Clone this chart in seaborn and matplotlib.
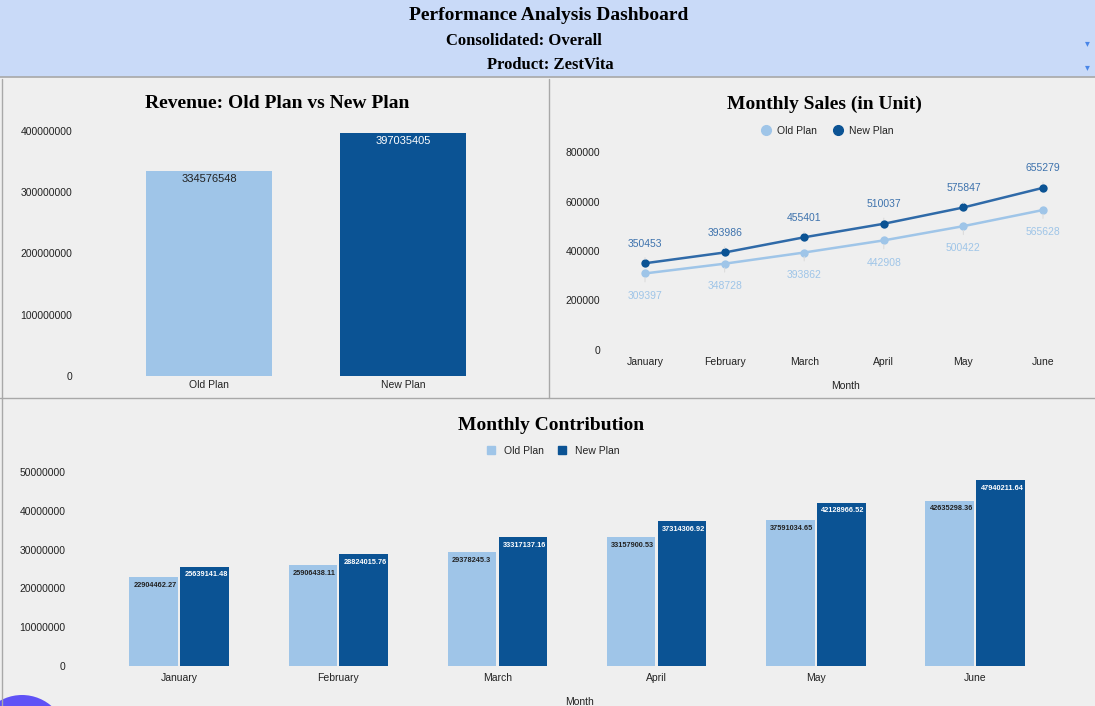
import pandas as pd
import matplotlib.pyplot as plt
import seaborn as sns
from matplotlib.patches import Rectangle, Circle
from matplotlib.lines import Line2D

# data
plans = ["Old Plan", "New Plan"]
revenue = [334576548, 397035405]

months = ["January", "February", "March", "April", "May", "June"]
sales_old = [309397, 348728, 393862, 442908, 500422, 565628]
sales_new = [350453, 393986, 455401, 510037, 575847, 655279]

contrib_old = [22904462.27, 25906438.11, 29378245.3, 33157900.53, 37591034.65, 42635298.36]
contrib_new = [25639141.48, 28824015.76, 33317137.16, 37314306.92, 42128966.52, 47940211.64]

LIGHT = "#9fc5e8"
DARK = "#0b5394"
BG = "#efefef"

sns.set_style("white")
plt.rcParams["font.family"] = ["Liberation Sans", "DejaVu Sans"]
plt.rcParams["text.color"] = "#222222"

W, H = 1095, 706
fig = plt.figure(figsize=(W / 100, H / 100), dpi=100, facecolor=BG)


def px_axes(x0, y0, x1, y1):
    a = fig.add_axes([x0 / W, 1 - y1 / H, (x1 - x0) / W, (y1 - y0) / H])
    a.set_facecolor(BG)
    for s in a.spines.values():
        s.set_visible(False)
    a.tick_params(length=0, labelsize=7.5, colors="#222222")
    return a


def fx(x):
    return x / W


def fy(y):
    return 1 - y / H


# header band and panel borders
fig.patches.append(Rectangle((0, fy(77)), 1, fy(0) - fy(77), transform=fig.transFigure,
                             facecolor="#c9daf8", edgecolor="none", zorder=0))
fig.add_artist(Line2D([0, 1], [fy(77), fy(77)], color="#a8a8a8", lw=1.2))
fig.add_artist(Line2D([0, 1], [fy(398), fy(398)], color="#a8a8a8", lw=1.0))
fig.add_artist(Line2D([fx(549), fx(549)], [fy(79), fy(398)], color="#a8a8a8", lw=1.0))
fig.add_artist(Line2D([fx(2), fx(2)], [fy(79), 0], color="#a8a8a8", lw=1.0))

serif = ["Liberation Serif", "DejaVu Serif"]
fig.text(fx(549), fy(15), "Performance Analysis Dashboard", ha="center", va="center",
         family=serif, weight="bold", fontsize=14, color="black")
fig.text(fx(524), fy(41), "Consolidated: Overall", ha="center", va="center",
         family=serif, weight="bold", fontsize=12, color="black")
fig.text(fx(550), fy(65), "Product: ZestVita", ha="center", va="center",
         family=serif, weight="bold", fontsize=12, color="black")
for yy in (43, 67):
    fig.text(fx(1087), fy(yy), "\u25be", ha="center", va="center", color="#4a86e8", fontsize=7,
             family=["DejaVu Sans"])

# ---- Revenue bars ----
ax1 = px_axes(85, 131, 530, 376)
sns.barplot(x=plans, y=revenue, hue=plans, palette=[LIGHT, DARK], width=0.65,
            saturation=1, legend=False, linewidth=0, ax=ax1)
ax1.set_ylim(0, 400000000)
ax1.set_xlim(-0.639, 1.655)
ax1.set_yticks([0, 100000000, 200000000, 300000000, 400000000])
ax1.set_yticklabels(["0", "100000000", "200000000", "300000000", "400000000"])
ax1.tick_params(axis="y", pad=9)
ax1.tick_params(axis="x", pad=3)
for i, v in enumerate(revenue):
    ax1.annotate(str(v), (i, v), xytext=(0, -6), textcoords="offset points", ha="center",
                 va="center", fontsize=8, color="#222222" if i == 0 else "white")
fig.text(fx(277), fy(104), "Revenue: Old Plan vs New Plan", ha="center", va="center",
         family=serif, weight="bold", fontsize=14, color="black")

# ---- Monthly sales lines ----
ax2 = px_axes(610, 152, 1080, 350)
sales_df = pd.DataFrame({
    "Month": months * 2,
    "Units": sales_old + sales_new,
    "Plan": ["Old Plan"] * 6 + ["New Plan"] * 6,
})
sns.lineplot(data=sales_df, x="Month", y="Units", hue="Plan", palette=[LIGHT, "#2f6aa8"],
             marker="o", markersize=6, markeredgewidth=0, linewidth=1.8, legend=False, ax=ax2)
for line, mc in zip(ax2.lines, [LIGHT, DARK]):
    line.set_markerfacecolor(mc)
ax2.set_ylim(0, 800000)
ax2.set_xlim(-0.44, 5.465)
ax2.set_yticks([0, 200000, 400000, 600000, 800000])
ax2.set_yticklabels(["0", "200000", "400000", "600000", "800000"])
ax2.tick_params(axis="y", pad=7)
ax2.tick_params(axis="x", pad=5)
ax2.set_ylabel("")
ax2.set_xlabel("Month", fontsize=7.5, labelpad=10, color="#222222")
for i in range(len(months)):
    ax2.annotate(str(sales_new[i]), (i, sales_new[i]), xytext=(0, 14), textcoords="offset points",
                 ha="center", va="center", fontsize=7.5, color="#3d72ad",
                 arrowprops=dict(arrowstyle="-", color="#dcdcdc", lw=0.8, shrinkA=4, shrinkB=3))
    ax2.annotate(str(sales_old[i]), (i, sales_old[i]), xytext=(0, -16), textcoords="offset points",
                 ha="center", va="center", fontsize=7.5, color=LIGHT,
                 arrowprops=dict(arrowstyle="-", color="#dcdcdc", lw=0.8, shrinkA=4, shrinkB=3))
fig.text(fx(824), fy(104), "Monthly Sales (in Unit)", ha="center", va="center",
         family=serif, weight="bold", fontsize=14, color="black")
fig.legend(handles=[Line2D([], [], marker="o", ls="", color=LIGHT, markersize=7, label="Old Plan"),
                    Line2D([], [], marker="o", ls="", color=DARK, markersize=7, label="New Plan")],
           loc="center", bbox_to_anchor=(fx(827), fy(131)), ncol=2, frameon=False, fontsize=7.5,
           handletextpad=0.6, columnspacing=1.5, handlelength=1.0)

# ---- Monthly contribution bars ----
ax3 = px_axes(75, 472, 1085, 666)
contrib_df = pd.DataFrame({
    "Month": months * 2,
    "Contribution": contrib_old + contrib_new,
    "Plan": ["Old Plan"] * 6 + ["New Plan"] * 6,
})
sns.barplot(data=contrib_df, x="Month", y="Contribution", hue="Plan", palette=[LIGHT, DARK],
            width=0.64, gap=0.05, saturation=1, legend=False, linewidth=0, ax=ax3)
ax3.set_ylim(0, 50000000)
ax3.set_xlim(-0.653, 5.69)
ax3.set_yticks([0, 10000000, 20000000, 30000000, 40000000, 50000000])
ax3.set_yticklabels(["0", "10000000", "20000000", "30000000", "40000000", "50000000"])
ax3.tick_params(axis="y", pad=7)
ax3.tick_params(axis="x", pad=5)
ax3.set_ylabel("")
ax3.set_xlabel("Month", fontsize=7.5, labelpad=10, color="#222222")
for cont, tc, vals in zip(ax3.containers, ["#222222", "white"], [contrib_old, contrib_new]):
    for bar, v in zip(cont, vals):
        ax3.annotate(str(v), (bar.get_x(), bar.get_height()), xytext=(3, -6),
                     textcoords="offset points", ha="left", va="center", fontsize=5.3,
                     weight="bold", color=tc)
fig.text(fx(551), fy(425), "Monthly Contribution", ha="center", va="center",
         family=serif, weight="bold", fontsize=14, color="black")
fig.legend(handles=[Rectangle((0, 0), 1, 1, color=LIGHT, label="Old Plan"),
                    Rectangle((0, 0), 1, 1, color=DARK, label="New Plan")],
           loc="center", bbox_to_anchor=(fx(553), fy(451)), ncol=2, frameon=False, fontsize=7.5,
           handletextpad=0.8, columnspacing=1.4, handlelength=0.8, handleheight=0.8)

# the round widget peeking in at the bottom-left corner
fig.patches.append(Circle((0.22, -0.34), 0.45, transform=fig.dpi_scale_trans,
                          facecolor="#5f52f6", edgecolor="none"))

fig.savefig("out.png", dpi=100, facecolor=BG)
